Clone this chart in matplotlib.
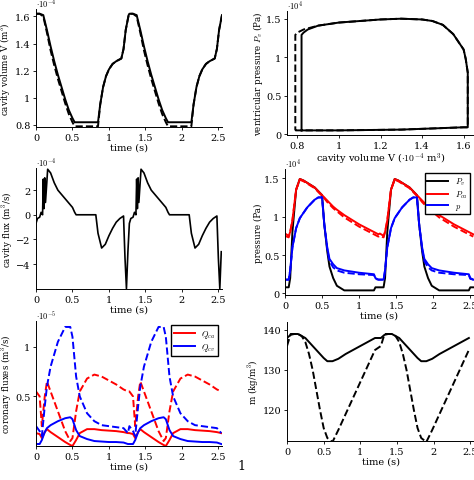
import numpy as np
import matplotlib
matplotlib.use("Agg")
import matplotlib.pyplot as plt

plt.rcParams['font.family'] = 'DejaVu Serif'
plt.rcParams['mathtext.fontset'] = 'cm'
plt.rcParams['font.size'] = 7

PER = 1.28

# --- cavity volume (x1e-4 m^3), one cycle, repeated
tV = [0, 0.05, 0.1, 0.15, 0.2, 0.25, 0.3, 0.35, 0.4, 0.45, 0.5, 0.53, 0.85, 0.88, 0.92, 0.96, 1.0, 1.05, 1.1, 1.17, 1.2, 1.23, 1.27]
V_sol = [1.62, 1.62, 1.61, 1.5, 1.38, 1.27, 1.17, 1.08, 0.99, 0.91, 0.85, 0.82, 0.82, 0.95, 1.08, 1.16, 1.21, 1.25, 1.27, 1.29, 1.36, 1.5, 1.61]
V_das = [1.62, 1.62, 1.60, 1.48, 1.35, 1.24, 1.14, 1.05, 0.96, 0.88, 0.82, 0.79, 0.79, 0.95, 1.08, 1.16, 1.21, 1.25, 1.27, 1.29, 1.36, 1.5, 1.61]

# --- cavity flux (x1e-4 m^3/s)
tQ = [0, 0.02, 0.05, 0.07, 0.09, 0.1, 0.11, 0.12, 0.13, 0.16, 0.2, 0.25, 0.3, 0.4, 0.5, 0.53, 0.55, 0.82, 0.85, 0.9, 0.95, 1.0, 1.05, 1.1, 1.15, 1.2, 1.22, 1.24, 1.26]
Q_cav = [-0.7, -0.3, -0.2, 0.2, 0.0, 2.9, 0.5, 3.0, 1.0, 3.7, 3.4, 2.6, 2.0, 1.3, 0.6, 0.2, 0.0, 0.0, -1.5, -2.7, -2.4, -1.7, -1.1, -0.6, -0.3, -0.1, -3.5, -6.0, -3.0]

# --- PV loop (V x1e-4, P x1e4)
pv_V_sol = [0.82, 1.0, 1.3, 1.6, 1.62, 1.62, 1.61, 1.6, 1.55, 1.5, 1.45, 1.4, 1.3, 1.2, 1.0, 0.9, 0.85, 0.83, 0.82, 0.82]
pv_V_das = [0.79, 1.0, 1.3, 1.6, 1.62, 1.62, 1.61, 1.6, 1.55, 1.5, 1.45, 1.4, 1.3, 1.2, 1.0, 0.9, 0.83, 0.80, 0.79, 0.79]
pv_P = [0.05, 0.05, 0.06, 0.09, 0.09, 0.8, 0.98, 1.1, 1.3, 1.42, 1.47, 1.49, 1.5, 1.49, 1.45, 1.41, 1.36, 1.32, 1.29, 0.05]

# --- pressures (x1e4 Pa)
tP = [0, 0.05, 0.07, 0.1, 0.15, 0.2, 0.25, 0.3, 0.4, 0.45, 0.5, 0.53, 0.57, 0.6, 0.65, 0.7, 0.8, 1.0, 1.2, 1.22, 1.26]
Pv = [0.08, 0.08, 0.2, 0.8, 1.35, 1.49, 1.47, 1.44, 1.38, 1.33, 1.28, 0.9, 0.55, 0.35, 0.2, 0.1, 0.04, 0.04, 0.04, 0.08, 0.08]
Pca_sol = [0.78, 0.75, 0.8, 0.95, 1.35, 1.49, 1.47, 1.44, 1.38, 1.33, 1.28, 1.25, 1.21, 1.18, 1.13, 1.09, 1.02, 0.9, 0.8, 0.79, 0.77]
Pca_das = [0.75, 0.73, 0.8, 0.95, 1.35, 1.48, 1.46, 1.43, 1.37, 1.32, 1.27, 1.24, 1.19, 1.16, 1.11, 1.07, 0.99, 0.87, 0.77, 0.76, 0.74]
p_sol = [0.18, 0.18, 0.3, 0.6, 0.85, 0.98, 1.05, 1.12, 1.22, 1.25, 1.25, 0.9, 0.6, 0.45, 0.38, 0.33, 0.3, 0.27, 0.25, 0.2, 0.18]
p_das = [0.18, 0.18, 0.3, 0.6, 0.85, 0.98, 1.05, 1.12, 1.22, 1.25, 1.25, 0.9, 0.58, 0.42, 0.34, 0.3, 0.27, 0.25, 0.24, 0.19, 0.18]

# --- coronary fluxes (x1e-5 m^3/s)
tC = [0, 0.05, 0.08, 0.12, 0.15, 0.2, 0.3, 0.4, 0.47, 0.5, 0.55, 0.6, 0.7, 0.8, 0.9, 1.0, 1.1, 1.2, 1.26]
Qca_sol = [0.13, 0.12, 0.08, 0.14, 0.17, 0.14, 0.09, 0.04, 0.01, 0.0, 0.06, 0.13, 0.17, 0.17, 0.16, 0.155, 0.15, 0.14, 0.13]
Qca_das = [0.55, 0.5, 0.2, 0.5, 0.65, 0.55, 0.35, 0.15, 0.05, 0.08, 0.35, 0.55, 0.68, 0.72, 0.7, 0.66, 0.62, 0.57, 0.55]
Qcv_sol = [0.02, 0.02, 0.06, 0.14, 0.18, 0.21, 0.25, 0.28, 0.29, 0.27, 0.16, 0.1, 0.07, 0.05, 0.045, 0.04, 0.04, 0.035, 0.02]
Qcv_das = [0.2, 0.15, 0.1, 0.4, 0.6, 0.8, 1.05, 1.2, 1.2, 1.1, 0.7, 0.5, 0.33, 0.25, 0.21, 0.2, 0.19, 0.18, 0.13]

# --- m (kg/m^3)
tM = [0, 0.05, 0.1, 0.15, 0.2, 0.25, 0.3, 0.35, 0.4, 0.45, 0.5, 0.55, 0.62, 0.7, 0.8, 0.9, 1.0, 1.1, 1.2]
m_sol = [138, 138.8, 139, 139, 138.5, 138, 137, 136, 135, 134, 133, 132.2, 132.2, 132.8, 134, 135, 136, 137, 138]
m_das = [136, 139, 139, 139, 138.5, 137, 134, 130, 125, 120, 115.5, 113, 112, 115, 119, 123, 127, 131, 135]


def rep(t, y, n=2, tmax=2.56):
    tt = np.concatenate([np.array(t) + k * PER for k in range(n)])
    yy = np.concatenate([np.array(y)] * n)
    m = tt <= tmax
    return tt[m], yy[m]


W, H = 474, 481
fig = plt.figure(figsize=(W / 100, H / 100), dpi=100)


def ax_px(x0, y0, x1, y1):
    ax = fig.add_axes([x0 / W, 1 - y1 / H, (x1 - x0) / W, (y1 - y0) / H])
    for s in ['top', 'right']:
        ax.spines[s].set_visible(False)
    ax.tick_params(length=2, width=0.6, pad=2)
    for s in ['left', 'bottom']:
        ax.spines[s].set_linewidth(0.7)
    return ax


def expo(ax, txt):
    ax.text(0.0, 1.0, txt, transform=ax.transAxes, ha='left', va='bottom', fontsize=6)


def ylab(ax, txt):
    ax.set_ylabel(txt, labelpad=1, fontsize=6.3)

tticks = [0, 0.5, 1, 1.5, 2, 2.5]
tlabs = ['0', '0.5', '1', '1.5', '2', '2.5']
lw = 1.4

# Panel 1
ax = ax_px(36, 10, 222, 128)
ax.plot(*rep(tV, V_das), 'k--', lw=lw)
ax.plot(*rep(tV, V_sol), 'k-', lw=lw)
ax.set_xlim(0, 2.55); ax.set_ylim(0.785, 1.655)
ax.set_xticks(tticks, tlabs); ax.set_yticks([0.8, 1, 1.2, 1.4, 1.6], ['0.8', '1', '1.2', '1.4', '1.6'])
ax.set_xlabel('time (s)', labelpad=1); ylab(ax, 'cavity volume V (m$^3$)')
expo(ax, r'$\cdot10^{-4}$')

# Panel 2
ax = ax_px(287, 12, 474, 136)
ax.plot(pv_V_das + [pv_V_das[0]], pv_P + [pv_P[0]], 'k--', lw=lw)
ax.plot(pv_V_sol + [pv_V_sol[0]], pv_P + [pv_P[0]], 'k-', lw=lw)
ax.set_xlim(0.75, 1.65); ax.set_ylim(-0.01, 1.6)
ax.set_xticks([0.8, 1, 1.2, 1.4, 1.6], ['0.8', '1', '1.2', '1.4', '1.6']); ax.set_yticks([0, 0.5, 1, 1.5], ['0', '0.5', '1', '1.5'])
ax.set_xlabel(r'cavity volume V ($\cdot10^{-4}$ m$^3$)', labelpad=1); ylab(ax, r'ventricular pressure $P_v$ (Pa)')
expo(ax, r'$\cdot10^{4}$')

# Panel 3
ax = ax_px(36, 169, 222, 290)
ax.plot(*rep(tQ, Q_cav), 'k-', lw=1.2)
ax.set_xlim(0, 2.55); ax.set_ylim(-6.03, 3.8)
ax.set_xticks(tticks, tlabs); ax.set_yticks([-4, -2, 0, 2], ['−4', '−2', '0', '2'])
ax.set_xlabel('time (s)', labelpad=1); ylab(ax, 'cavity flux (m$^3$/s)')
expo(ax, r'$\cdot10^{-4}$')

# Panel 4
ax = ax_px(285, 170, 474, 296)
ax.plot(*rep(tP, Pv), 'k-', lw=lw, label=r'$P_v$')
ax.plot(*rep(tP, Pca_das), 'r--', lw=lw)
ax.plot(*rep(tP, Pca_sol), 'r-', lw=lw, label=r'$P_{ca}$')
ax.plot(*rep(tP, p_das), 'b--', lw=lw)
ax.plot(*rep(tP, p_sol), 'b-', lw=lw, label=r'$p$')
ax.set_xlim(0, 2.55); ax.set_ylim(-0.02, 1.62)
ax.set_xticks(tticks, tlabs); ax.set_yticks([0, 0.5, 1, 1.5], ['0', '0.5', '1', '1.5'])
ax.set_xlabel('time (s)', labelpad=1); ylab(ax, 'pressure (Pa)')
ax.legend(loc='upper right', fontsize=6, fancybox=False, edgecolor='k', handlelength=2.5, borderpad=0.3, labelspacing=0.2, framealpha=1)
expo(ax, r'$\cdot10^{4}$')

# Panel 5
ax = ax_px(36, 322, 222, 447)
ax.plot(*rep(tC, Qca_das), 'r--', lw=lw)
ax.plot(*rep(tC, Qca_sol), 'r-', lw=lw, label=r'$Q_{ca}$')
ax.plot(*rep(tC, Qcv_das), 'b--', lw=lw)
ax.plot(*rep(tC, Qcv_sol), 'b-', lw=lw, label=r'$Q_{cv}$')
ax.set_xlim(0, 2.55); ax.set_ylim(0, 1.26)
ax.set_xticks(tticks, tlabs); ax.set_yticks([0.5, 1], ['0.5', '1'])
ax.set_xlabel('time (s)', labelpad=1); ylab(ax, 'coronary fluxes (m$^3$/s)')
ax.legend(loc='upper right', fontsize=6, fancybox=False, edgecolor='k', handlelength=2.5, borderpad=0.3, labelspacing=0.2, framealpha=1)
expo(ax, r'$\cdot10^{-5}$')

# Panel 6
ax = ax_px(287, 323, 474, 442)
ax.plot(*rep(tM, m_das), 'k--', lw=lw)
ax.plot(*rep(tM, m_sol), 'k-', lw=lw)
ax.set_xlim(0, 2.55); ax.set_ylim(112.25, 142)
ax.set_xticks(tticks, tlabs); ax.set_yticks([120, 130, 140])
ax.set_xlabel('time (s)', labelpad=1); ylab(ax, 'm (kg/m$^3$)')

fig.text(241 / W, 1 - 470 / H, '1', fontsize=9, ha='center')

fig.savefig('out.png', dpi=100)
